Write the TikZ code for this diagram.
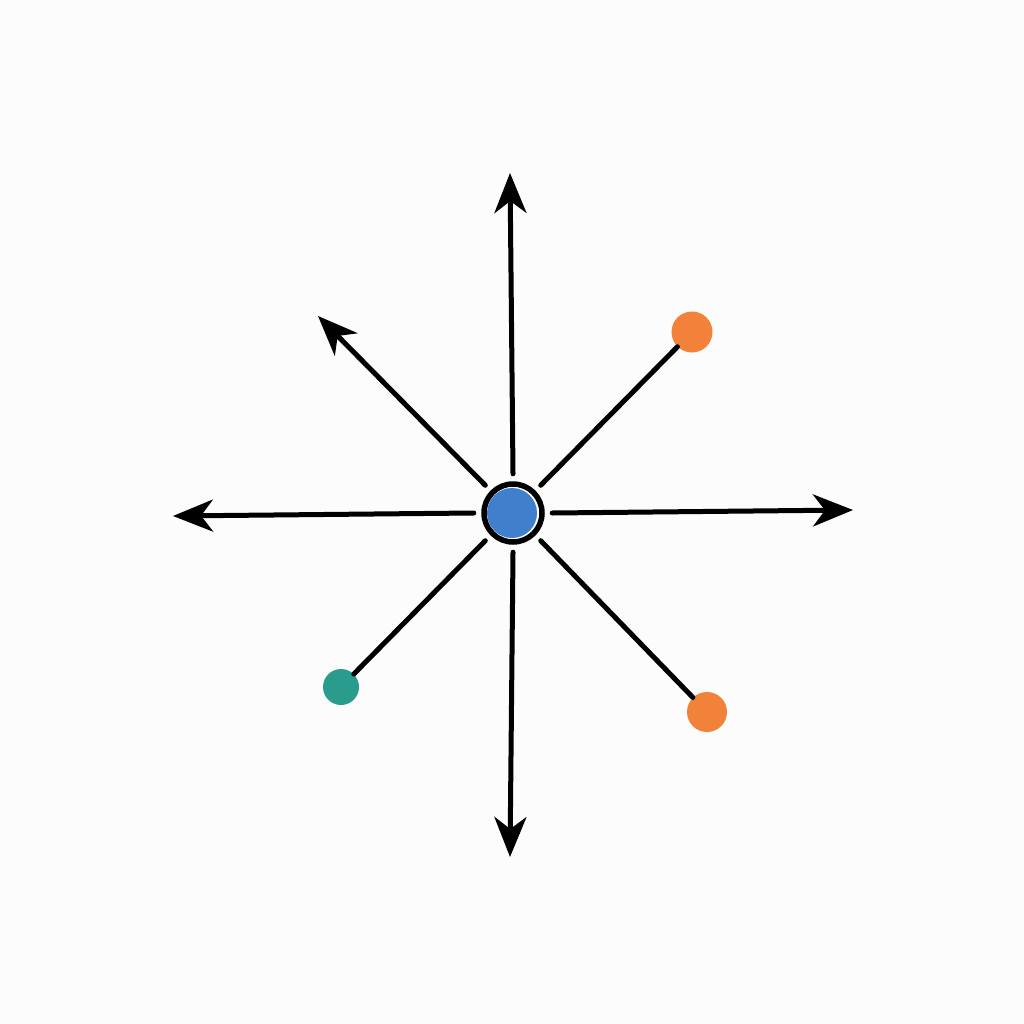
\documentclass[tikz,border=0pt]{standalone}
\usetikzlibrary{arrows.meta}
\definecolor{bg}{HTML}{FBFCFB}
\definecolor{cblue}{HTML}{3F7FCB}
\definecolor{corange}{HTML}{F2823A}
\definecolor{cteal}{HTML}{2A9C8E}
\begin{document}
\begin{tikzpicture}[x=1pt,y=-1pt,
  spoke/.style={line width=5pt, black, line cap=round},
  arr/.style={spoke, -{Stealth[length=40pt,width=32pt,inset=12pt]}},
  dot/.style={circle, inner sep=0pt, minimum size=#1},
]
\fill[bg] (0,0) rectangle (1024,1024);
\useasboundingbox (0,0) rectangle (1024,1024);
% center
\node[circle, fill=white, draw=black, line width=5.5pt, minimum size=58pt, inner sep=0pt] (ring) at (513,513) {};
\node[circle, fill=cblue, minimum size=50pt, inner sep=0pt] (c) at (512,513) {};
\node[circle, minimum size=78pt, inner sep=0pt] (cr) at (513,513) {};
% arrow ends
\coordinate (up) at (510,173);
\coordinate (dn) at (510,857);
\coordinate (lf) at (173,516);
\coordinate (rt) at (853,510);
\coordinate (ul) at (318,316);
% dots
\node[dot=41pt, fill=corange] (ur) at (692,332) {};
\node[dot=36pt, fill=cteal] (ll) at (341,687) {};
\node[dot=40pt, fill=corange] (lr) at (707,712) {};
% arrows
\draw[arr] (cr.90) -- (up);
\draw[arr] (cr.270) -- (dn);
\draw[arr] (cr.180) -- (lf);
\draw[arr] (cr.0) -- (rt);
\draw[arr] (cr.135) -- (ul);
% spokes to dots
\draw[spoke] (cr.45) -- (ur);
\draw[spoke] (cr.225) -- (ll);
\draw[spoke] (cr.315) -- (lr);
\end{tikzpicture}
\end{document}
